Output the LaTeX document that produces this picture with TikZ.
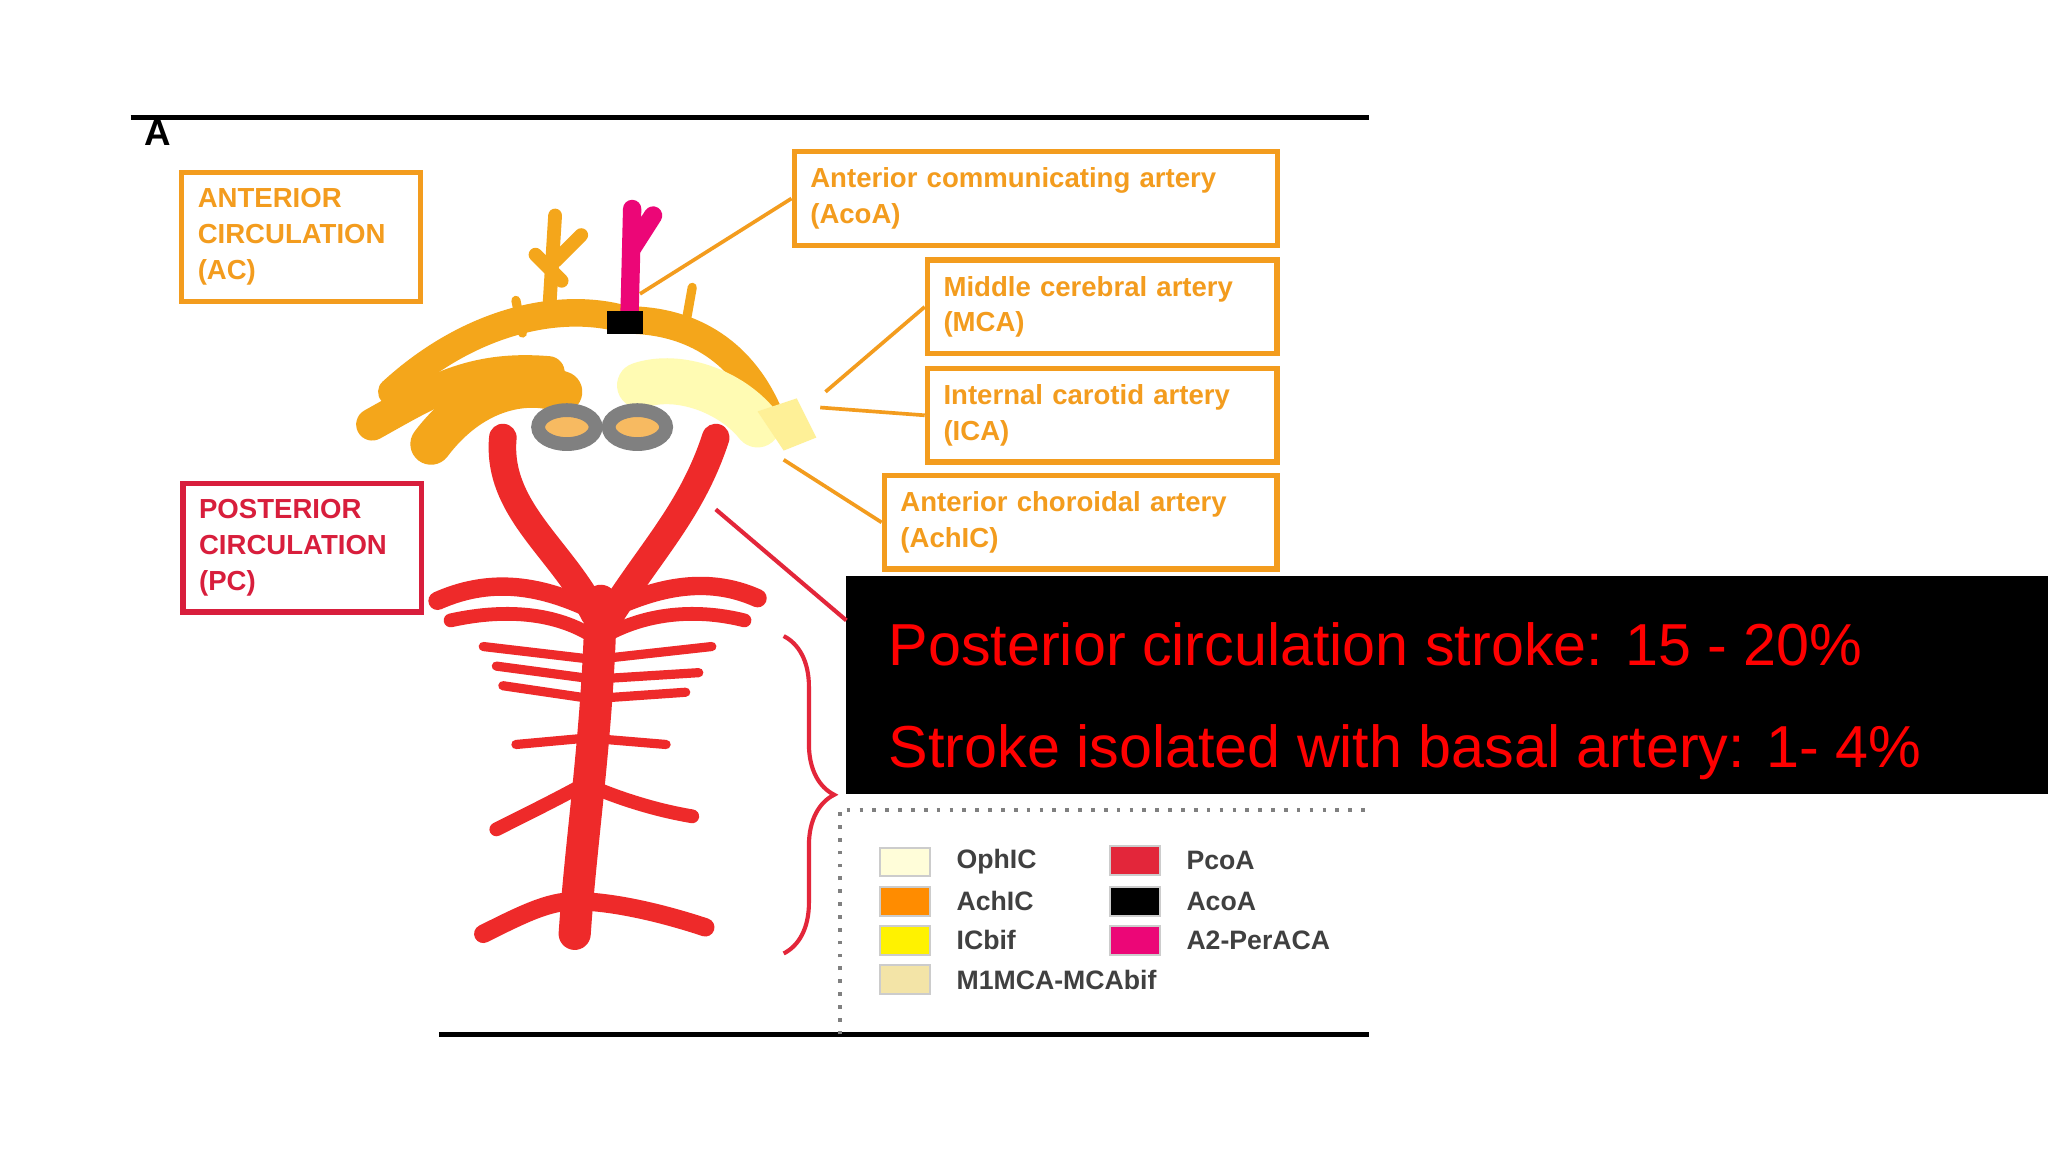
\documentclass[tikz,border=0pt]{standalone}
\usepackage{fontspec}
\setmainfont{Liberation Sans}
\usetikzlibrary{decorations.pathreplacing}
\definecolor{org}{HTML}{F39C1E}
\definecolor{rd}{HTML}{E3263A}
\definecolor{art}{HTML}{EE2A2A}
\definecolor{boxred}{HTML}{D81E3C}
\tikzset{
 lbl/.style={draw=org,line width=1.2pt,text=org,font=\fontsize{6.0}{7.8}\selectfont\bfseries,align=left,anchor=north west,inner sep=3.5pt,text width=#1},
 lead/.style={draw=org,line width=0.8pt},
 artery/.style={draw=art,line width=#1,line cap=round,line join=round},
 oart/.style={draw=org!90!yellow,line width=#1,line cap=round,line join=round},
 sw/.style={minimum width=0.38cm,minimum height=0.22cm,inner sep=0pt,draw=gray!40},
 lg/.style={font=\fontsize{5.8}{7}\selectfont\bfseries,text=black!75,anchor=west},
 big/.style={font=\fontsize{12.9}{15}\selectfont,text=red,anchor=west}
}
\begin{document}
\begin{tikzpicture}[x=0.01cm,y=-0.01cm]
\useasboundingbox (0,0) rectangle (1568,882);
\fill[white] (0,0) rectangle (1568,882);
% frame lines
\coordinate (t1) at (100,90); \coordinate (t2) at (1048,90);
\coordinate (b1) at (336,792); \coordinate (b2) at (1048,792);
\draw[line width=1pt] (t1) -- (t2);
\draw[line width=1pt] (b1) -- (b2);
\node[font=\fontsize{8}{9}\selectfont\bfseries] (A) at (121,102) {A};
% label boxes
\node[lbl=1.58cm,minimum height=0.96cm] (ac) at (137,130) {ANTERIOR\\CIRCULATION\\(AC)};
\node[lbl=1.58cm,minimum height=0.96cm,draw=boxred,text=boxred] (pc) at (138,368) {POSTERIOR\\CIRCULATION\\(PC)};
\node[lbl=3.45cm] (acoa) at (606,114) {Anterior communicating artery\\(AcoA)};
\node[lbl=2.43cm] (mca) at (708,197) {Middle cerebral artery\\(MCA)};
\node[lbl=2.43cm] (ica) at (708,280) {Internal carotid artery\\(ICA)};
\node[lbl=2.76cm] (achic) at (675,362) {Anterior choroidal artery\\(AchIC)};
% arteries: posterior
\draw[artery=6pt] (385,335) .. controls (380,390) and (430,420) .. (455,470);
\draw[artery=6pt] (548,335) .. controls (530,390) and (500,420) .. (468,470);
\draw[artery=7pt] (460,460) .. controls (458,560) and (445,640) .. (440,715);
\draw[artery=4pt] (335,460) .. controls (380,440) and (420,450) .. (460,470) .. controls (500,450) and (540,440) .. (580,458);
\draw[artery=3pt] (345,475) .. controls (390,465) and (430,470) .. (458,490) .. controls (490,470) and (530,465) .. (570,475);
\draw[artery=2pt] (370,495) -- (455,505) -- (545,495);
\draw[artery=2pt] (380,510) -- (455,520) -- (535,515);
\draw[artery=2pt] (385,525) -- (453,535) -- (525,530);
\draw[artery=2pt] (395,570) -- (450,565) -- (510,570);
\draw[artery=3pt] (380,635) .. controls (410,620) and (430,610) .. (448,600) .. controls (470,610) and (500,620) .. (530,625);
\draw[artery=4pt] (370,715) .. controls (400,700) and (420,690) .. (440,690) .. controls (470,690) and (510,700) .. (540,710);
% anterior arch
\draw[oart=7pt] (285,325) .. controls (330,300) and (360,280) .. (420,285);
\draw[oart=9pt] (330,340) .. controls (360,300) and (400,290) .. (430,300);
\draw[oart=6pt] (300,300) .. controls (360,245) and (430,230) .. (480,245) .. controls (530,245) and (570,270) .. (590,320);
\draw[oart=3pt] (420,245) -- (425,165);
\draw[oart=3pt] (425,200) -- (445,180);
\draw[oart=3pt] (430,215) -- (410,195);
\draw[oart=2pt] (400,255) -- (395,230);
\draw[oart=2pt] (525,248) -- (530,220);
\draw[draw=magenta!80!red,line width=4pt,line cap=round] (482,240) -- (484,160) (484,190) -- (500,165);
\fill[black] (465,238) rectangle (492,256);
\draw[draw=yellow!30!white,line width=10pt,line cap=round] (490,295) .. controls (520,285) and (560,300) .. (580,325);
\fill[yellow!80!orange!40] (580,315) -- (610,305) -- (625,335) -- (600,345) -- cycle;
\draw[draw=gray,line width=3pt,fill=org!70] (434,327) ellipse (22 and 13);
\draw[draw=gray,line width=3pt,fill=org!70] (488,327) ellipse (22 and 13);
% leaders
\coordinate (p1) at (490,225); \coordinate (p2) at (632,300);
\coordinate (p3) at (628,312); \coordinate (p4) at (600,352);
\draw[lead] (acoa.west) -- (p1);
\draw[lead] (mca.west) -- (p2);
\draw[lead] (ica.west) -- (p3);
\draw[lead] (achic.west) -- (p4);
% black box
\fill[black] (648,441) rectangle (1568,608);
\node[big] (s1) at (668,493) {Posterior circulation stroke: 15 - 20\%};
\node[big] (s2) at (668,576) {Stroke isolated with basal artery: 1- 4\%};
\coordinate (r1) at (548,390);
\draw[rd,line width=0.9pt] (r1) -- (648,475);
% brace
\coordinate (br1) at (600,487); \coordinate (br2) at (600,730);
\draw[rd,line width=0.9pt,decorate,decoration={brace,amplitude=11pt}] (br1) -- (br2);
% legend
\coordinate (l1) at (643,792); \coordinate (l2) at (643,620); \coordinate (l3) at (1048,620);
\draw[gray,dotted,line width=0.8pt] (l1) -- (l2) -- (l3);
\node[sw,fill=yellow!15] (c1) at (693,660) {}; \node[lg] at (720,660) {OphIC};
\node[sw,fill=orange!90!yellow] (c2) at (693,690) {}; \node[lg] at (720,690) {AchIC};
\node[sw,fill=yellow] (c3) at (693,720) {}; \node[lg] at (720,720) {ICbif};
\node[sw,fill=yellow!50!brown!40] (c4) at (693,750) {}; \node[lg] at (720,750) {M1MCA-MCAbif};
\node[sw,fill=rd] (c5) at (869,659) {}; \node[lg] at (896,659) {PcoA};
\node[sw,fill=black] (c6) at (869,690) {}; \node[lg] at (896,690) {AcoA};
\node[sw,fill=magenta!80!red] (c7) at (869,720) {}; \node[lg] at (896,720) {A2-PerACA};
\end{tikzpicture}
\end{document}
